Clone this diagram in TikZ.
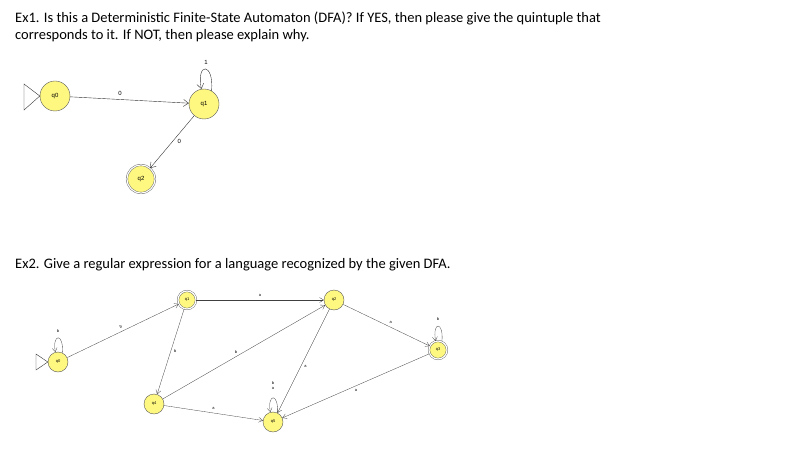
\documentclass[tikz,border=0pt]{standalone}
\usepackage{fontspec}
\setmainfont{Carlito}
\newfontfamily\arialf{Liberation Sans}
\usetikzlibrary{arrows.meta}
\begin{document}
\begin{tikzpicture}[x=1pt,y=-1pt,
  st/.style={circle,draw=gray!70!black,fill=yellow!50,minimum size=30pt,inner sep=0pt,font=\arialf\fontsize{6}{7}\selectfont},
  sst/.style={circle,draw=gray!70!black,fill=yellow!50,minimum size=20pt,inner sep=0pt,font=\arialf\fontsize{4}{5}\selectfont},
  acc/.style={double,double distance=1.2pt},
  tr/.style={draw=gray!40!black,line width=0.4pt,-{Straight Barb[length=5pt,width=7pt]}},
  ttr/.style={draw=gray!50!black,line width=0.3pt,-{Straight Barb[length=4pt,width=5pt]}},
  lb/.style={font=\arialf\fontsize{6}{7}\selectfont},
  slb/.style={font=\arialf\fontsize{4}{5}\selectfont},
  txt/.style={anchor=west,font=\fontsize{14.5}{17}\selectfont,inner sep=0pt}]
\useasboundingbox (0,0) rectangle (810,457);
\node[txt] (t1) at (15,18) {Ex1. Is this a Deterministic Finite-State Automaton (DFA)? If YES, then please give the quintuple that};
\node[txt] (t2) at (15,36) {corresponds to it. If NOT, then please explain why.};
\node[txt] (t3) at (15,265) {Ex2. Give a regular expression for a language recognized by the given DFA.};
% Ex1
\node[st] (a0) at (55,96) {q0};
\node[st] (a1) at (204,104) {q1};
\node[st,acc,minimum size=28pt] (a2) at (141,179) {q2};
\draw[gray!40!black] (a0.west) -- (24,84) -- (24,110) -- cycle;
\draw[tr] (a0) -- node[lb,above,pos=0.42] {0} (a1);
\draw[tr] (a1) -- node[lb,right,pos=0.5,xshift=2pt] {0} (a2);
\draw[tr] (a1.60) .. controls (214,62) and (196,62) .. (a1.100);
\node[lb] (l1) at (206,62) {1};
% Ex2
\node[sst] (b0) at (58,362) {q0};
\node[sst,acc,minimum size=18pt] (b1) at (187,300) {q1};
\node[sst] (b2) at (334,300) {q2};
\node[sst,acc,minimum size=18pt] (b3) at (438,350) {q3};
\node[sst] (b4) at (154,404) {q4};
\node[sst] (b5) at (273,422) {q5};
\draw[gray!40!black] (b0.west) -- (36,354) -- (36,370) -- cycle;
\draw[ttr] (b0) -- node[slb,above,sloped] {b} (b1);
\draw[ttr] (b1) -- node[slb,above,pos=0.5] {a} (b2);
\draw[ttr] (b1) -- node[slb,right,pos=0.5] {b} (b4);
\draw[ttr] (b4) -- node[slb,above,pos=0.45] {b} (b2);
\draw[ttr] (b4) -- node[slb,above,pos=0.5] {a} (b5);
\draw[ttr] (b2) -- node[slb,right,pos=0.55] {a} (b5);
\draw[ttr] (b2) -- node[slb,above,pos=0.55] {a} (b3);
\draw[ttr] (b3) -- node[slb,below,pos=0.5] {a} (b5);
\draw[ttr] (b0.65) .. controls (64,333) and (52,333) .. (b0.105);
\node[slb] (lb0) at (58,331) {b};
\draw[ttr] (b3.65) .. controls (444,321) and (432,321) .. (b3.105);
\node[slb] (lb3) at (438,319) {b};
\draw[ttr] (b5.65) .. controls (279,393) and (267,393) .. (b5.105);
\node[slb,align=center] (lb5) at (273,386) {b\\a};
\end{tikzpicture}
\end{document}
